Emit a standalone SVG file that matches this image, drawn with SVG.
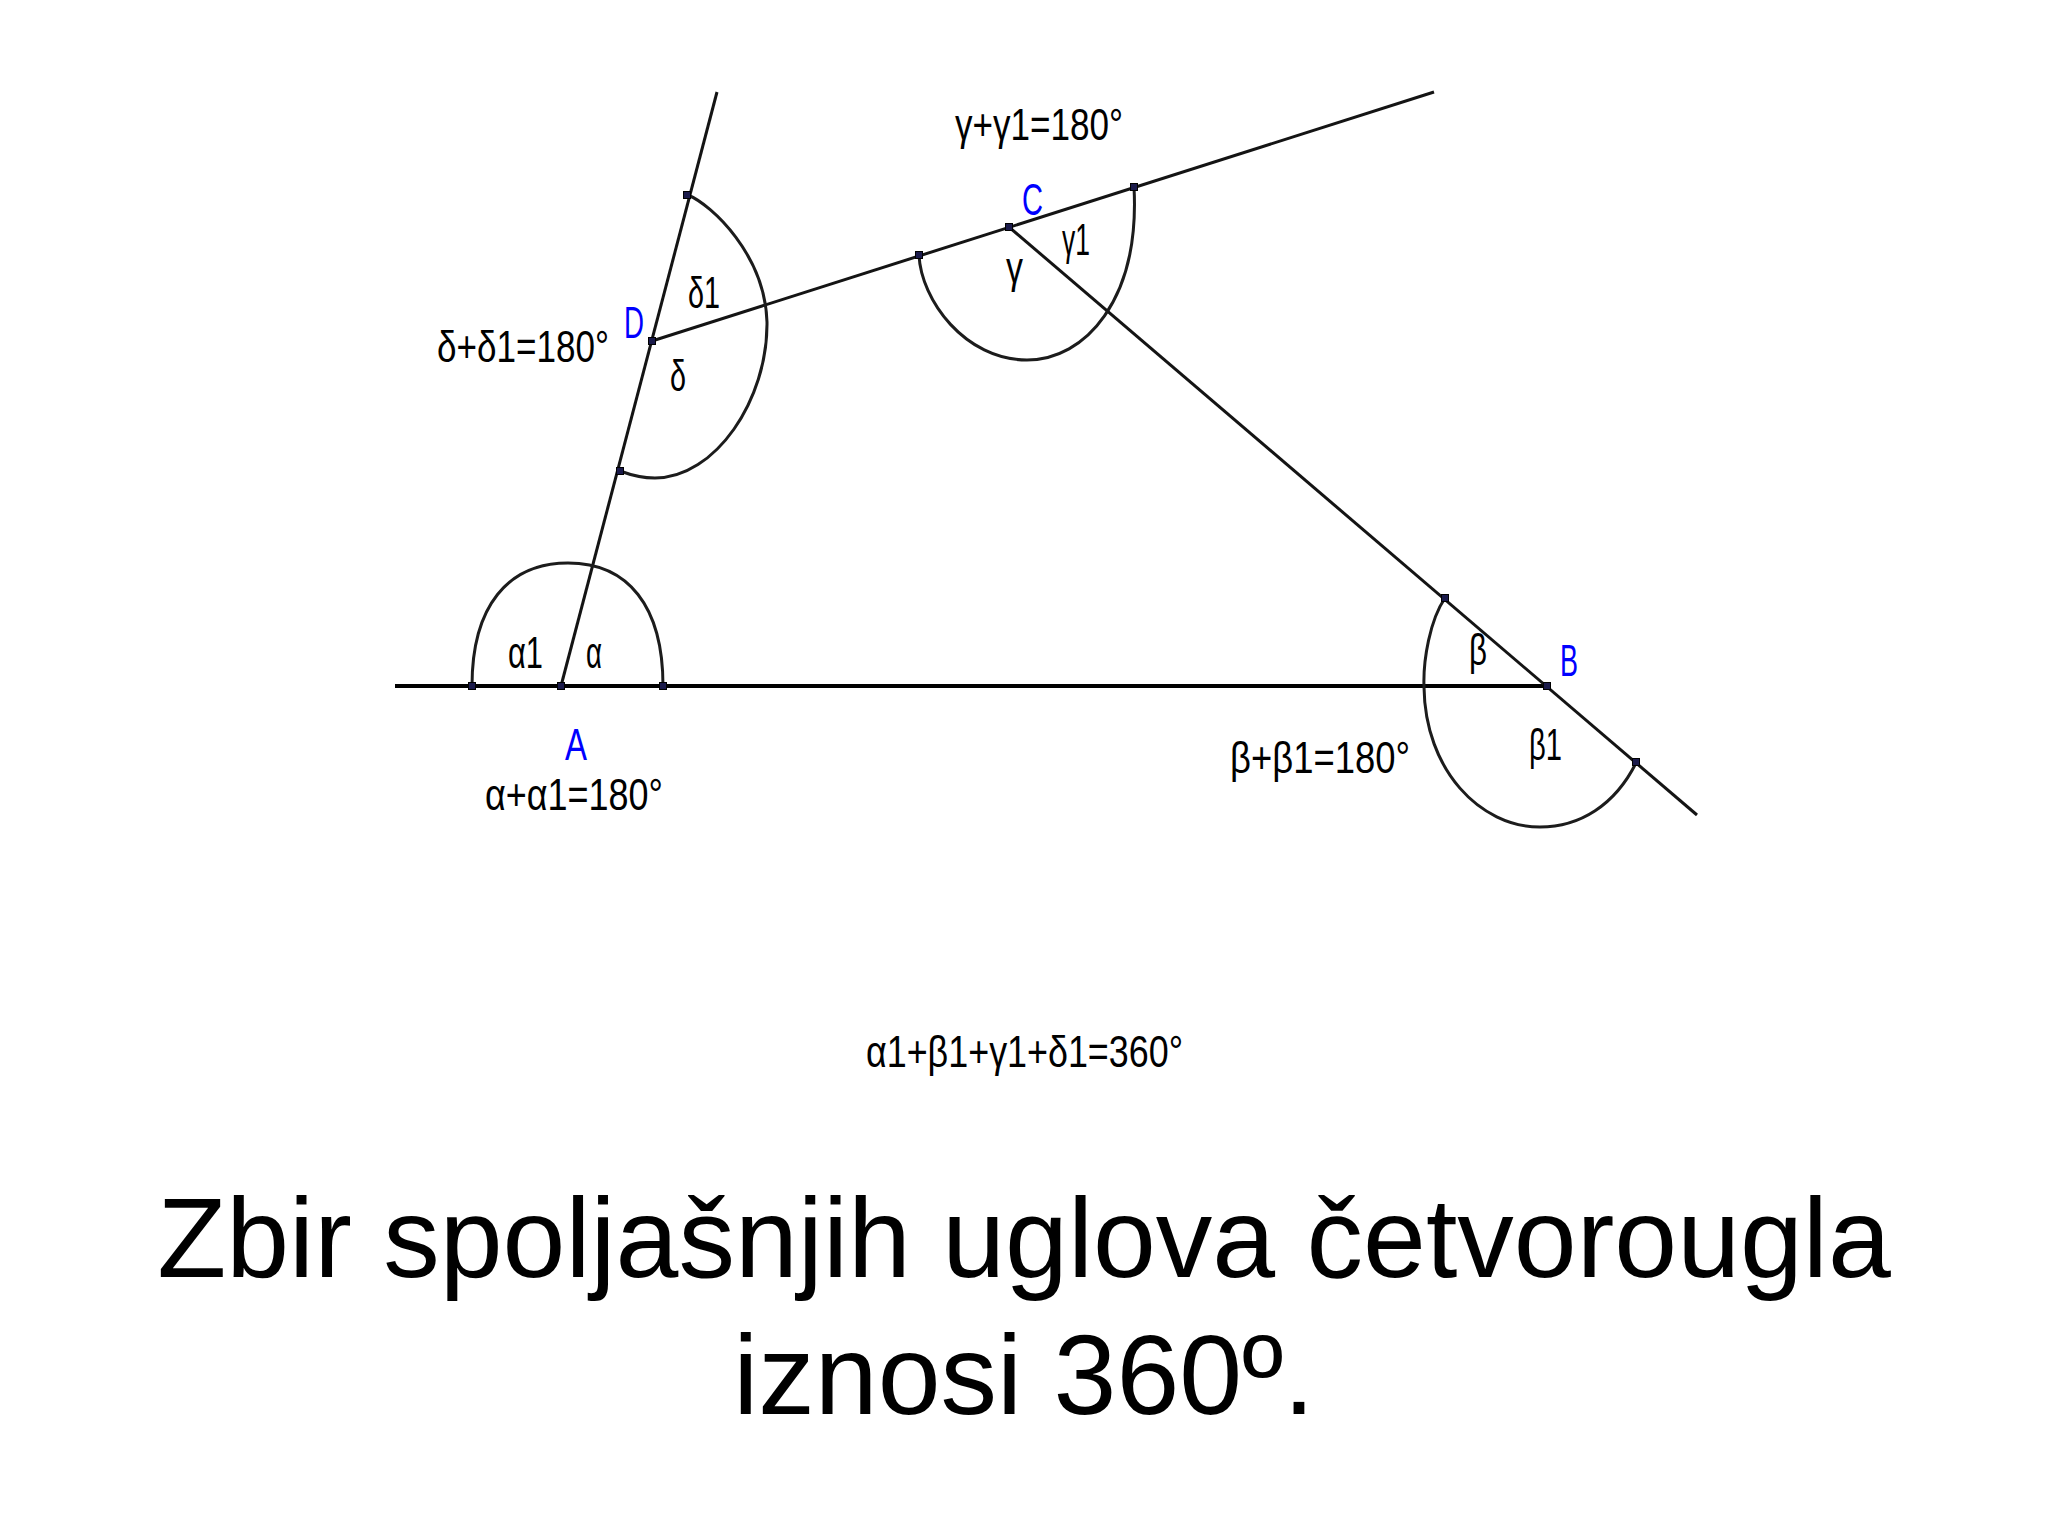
<svg xmlns="http://www.w3.org/2000/svg" width="2048" height="1536" viewBox="0 0 2048 1536">
  <style>
    .ln { stroke: #141414; stroke-width: 3; fill: none; stroke-linecap: butt; }
    .base { stroke: #000; stroke-width: 4; fill: none; }
    .arc { stroke: #1c1c1c; stroke-width: 3; fill: none; }
    .pt { fill: #1a1a4a; stroke: #000; stroke-width: 1; }
    .lbl { font-family: "Liberation Sans", Arial, sans-serif; font-size: 44px; fill: #000; }
    .vtx { font-family: "Liberation Sans", Arial, sans-serif; font-size: 44px; fill: #0000ff; }
    .title { font-family: "Liberation Sans", Arial, sans-serif; font-size: 113px; fill: #000; text-anchor: middle; }
  </style>
  <rect width="2048" height="1536" fill="#fff"/>

  <g id="connectors">
    <line class="base" x1="395" y1="686" x2="1547" y2="686"/>
    <line class="ln" x1="561" y1="686" x2="717" y2="92"/>
    <line class="ln" x1="652" y1="341" x2="1434" y2="92"/>
    <line class="ln" x1="1009" y1="227" x2="1697" y2="815"/>
  </g>

  <g id="vertex-A">
    <path class="arc" d="M472,686 C472,606 508,563 568,563 C628,563 663,606 663,686"/>
    <rect class="pt" x="468.5" y="682.5" width="7" height="7"/>
    <rect class="pt" x="557.5" y="682.5" width="7" height="7"/>
    <rect class="pt" x="659.5" y="682.5" width="7" height="7"/>
    <text class="lbl" x="508" y="668" textLength="35" lengthAdjust="spacingAndGlyphs">α1</text>
    <text class="lbl" x="586" y="668" textLength="16" lengthAdjust="spacingAndGlyphs">α</text>
    <text class="vtx" x="565" y="760" textLength="22" lengthAdjust="spacingAndGlyphs">A</text>
    <text class="lbl" x="485" y="810" textLength="178" lengthAdjust="spacingAndGlyphs">α+α1=180°</text>
  </g>

  <g id="vertex-B">
    <path class="arc" d="M1445,598 C1430,620 1423,660 1424,687 C1425,770 1480,827 1540,827 C1580,827 1615,805 1636,763"/>
    <rect class="pt" x="1441.5" y="594.5" width="7" height="7"/>
    <rect class="pt" x="1543.5" y="682.5" width="7" height="7"/>
    <rect class="pt" x="1632.5" y="758.5" width="7" height="7"/>
    <text class="lbl" x="1469" y="665" textLength="18" lengthAdjust="spacingAndGlyphs">β</text>
    <text class="vtx" x="1560" y="676" textLength="18" lengthAdjust="spacingAndGlyphs">B</text>
    <text class="lbl" x="1529" y="760" textLength="33" lengthAdjust="spacingAndGlyphs">β1</text>
    <text class="lbl" x="1230" y="773" textLength="180" lengthAdjust="spacingAndGlyphs">β+β1=180°</text>
  </g>

  <g id="vertex-C">
    <path class="arc" d="M919,255 C921,300 965,360 1027,360 C1085,360 1140,300 1134,187"/>
    <rect class="pt" x="915.5" y="251.5" width="7" height="7"/>
    <rect class="pt" x="1005.5" y="223.5" width="7" height="7"/>
    <rect class="pt" x="1130.5" y="183.5" width="7" height="7"/>
    <text class="vtx" x="1022" y="215" textLength="21" lengthAdjust="spacingAndGlyphs">C</text>
    <text class="lbl" x="1062" y="255" textLength="28" lengthAdjust="spacingAndGlyphs">γ1</text>
    <text class="lbl" x="1006" y="283" textLength="17" lengthAdjust="spacingAndGlyphs">γ</text>
    <text class="lbl" x="955" y="140" textLength="168" lengthAdjust="spacingAndGlyphs">γ+γ1=180°</text>
  </g>

  <g id="vertex-D">
    <path class="arc" d="M688,195 C712,205 765,255 767,322 C768,400 715,478 655,478 C640,478 628,474 620,471"/>
    <rect class="pt" x="683.5" y="191.5" width="7" height="7"/>
    <rect class="pt" x="648.5" y="337.5" width="7" height="7"/>
    <rect class="pt" x="616.5" y="467.5" width="7" height="7"/>
    <text class="vtx" x="624" y="338" textLength="20" lengthAdjust="spacingAndGlyphs">D</text>
    <text class="lbl" x="688" y="308" textLength="32" lengthAdjust="spacingAndGlyphs">δ1</text>
    <text class="lbl" x="670" y="391" textLength="16" lengthAdjust="spacingAndGlyphs">δ</text>
    <text class="lbl" transform="translate(437,362) scale(0.8,1)" x="0" y="0" textLength="215" lengthAdjust="spacingAndGlyphs">δ+δ1=180°</text>
  </g>

  <g id="sum-formula">
    <text class="lbl" x="866" y="1067" textLength="317" lengthAdjust="spacingAndGlyphs">α1+β1+γ1+δ1=360°</text>
  </g>

  <g id="title">
    <text class="title" x="1024" y="1277">Zbir spoljašnjih uglova četvorougla</text>
    <text class="title" x="1024" y="1414">iznosi 360º.</text>
  </g>
</svg>
